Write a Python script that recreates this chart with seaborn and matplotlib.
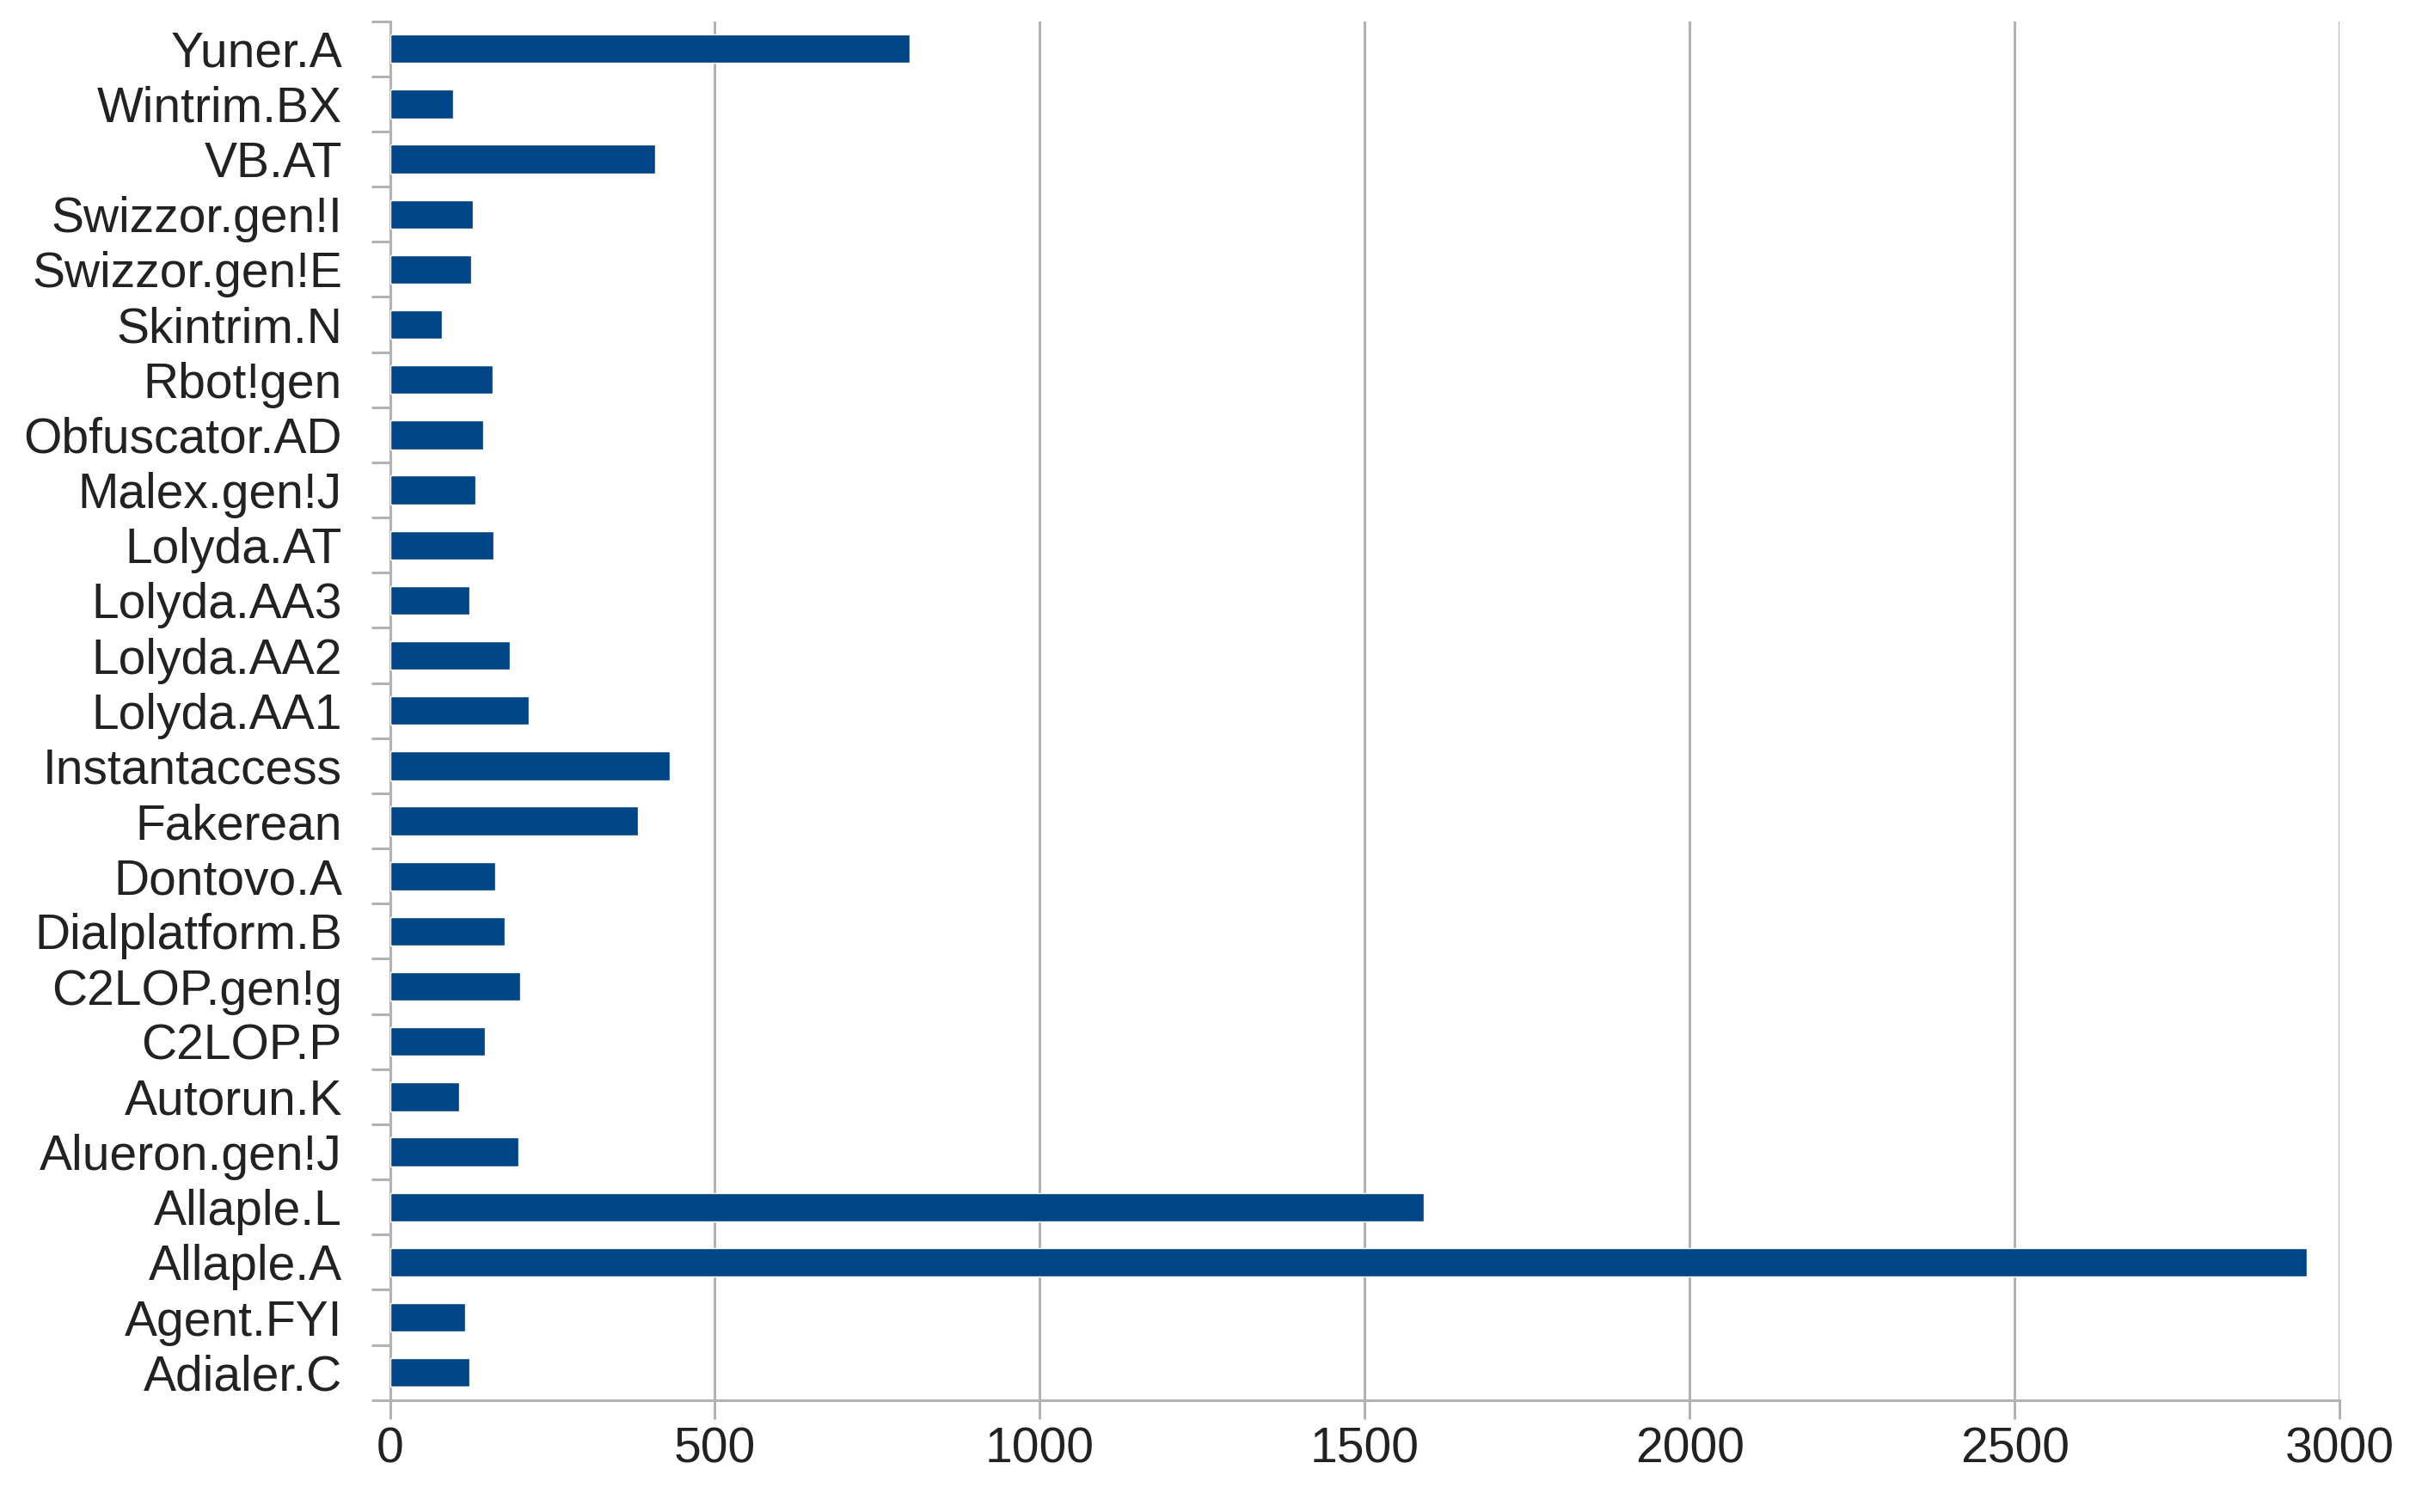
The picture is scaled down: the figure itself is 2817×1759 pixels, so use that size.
import matplotlib
matplotlib.use("Agg")
import matplotlib.pyplot as plt
import numpy as np
import pandas as pd
import seaborn as sns

# Families listed top to bottom as in the chart
families = ["Yuner.A", "Wintrim.BX", "VB.AT", "Swizzor.gen!I", "Swizzor.gen!E",
            "Skintrim.N", "Rbot!gen", "Obfuscator.AD", "Malex.gen!J", "Lolyda.AT",
            "Lolyda.AA3", "Lolyda.AA2", "Lolyda.AA1", "Instantaccess", "Fakerean",
            "Dontovo.A", "Dialplatform.B", "C2LOP.gen!g", "C2LOP.P", "Autorun.K",
            "Alueron.gen!J", "Allaple.L", "Allaple.A", "Agent.FYI", "Adialer.C"]
counts = [800, 97, 408, 128, 125,
          80, 158, 143, 132, 159,
          122, 184, 213, 431, 381,
          162, 177, 200, 146, 106,
          198, 1591, 2949, 116, 122]

df = pd.DataFrame({"family": families, "count": counts})

sns.set_style("white")
plt.rcParams["font.family"] = ["Liberation Sans", "DejaVu Sans"]

fig = plt.figure(figsize=(28.17, 17.59), dpi=100)
ax = fig.add_axes([0.161, 0.074, 0.805, 0.912])
sns.barplot(data=df, x="count", y="family", color="#004586", width=0.52,
            saturation=1, ax=ax, zorder=3)

ax.set_xlim(0, 3000)
ax.set_ylim(len(families) - 0.5, -0.5)
ax.set_xticks(np.arange(0, 3001, 500))
ax.xaxis.grid(True, color="#b3b3b3", linewidth=2.2, zorder=0)
ax.set_axisbelow(True)
ax.set_xlabel("")
ax.set_ylabel("")

# category boundaries as tick marks
ax.set_yticks(np.arange(len(families)))
ax.set_yticklabels(families)
ax.set_yticks(np.arange(-0.5, len(families), 1), minor=True)
ax.tick_params(axis="y", which="both", left=True)
ax.tick_params(axis="x", which="both", bottom=True)
ax.tick_params(axis="y", which="major", length=0, pad=40, labelsize=41, labelcolor="#222222")
ax.tick_params(axis="y", which="minor", length=16, width=2.2, color="#b3b3b3", direction="out")
ax.tick_params(axis="x", length=16, width=2.2, color="#b3b3b3", direction="out",
               labelsize=41, labelcolor="#222222", pad=6)

for side in ["top", "right"]:
    ax.spines[side].set_visible(False)
for side in ["left", "bottom"]:
    ax.spines[side].set_color("#b3b3b3")
    ax.spines[side].set_linewidth(2.2)

fig.savefig("out.png", dpi=100)
